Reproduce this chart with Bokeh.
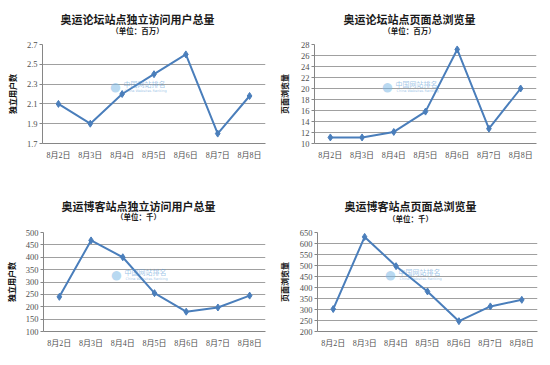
from bokeh.plotting import figure
from bokeh.models import FactorRange, Range1d, FixedTicker, Label
from bokeh.layouts import column, row
from bokeh.embed import file_html
from bokeh.resources import INLINE

dates = ["8月2日", "8月3日", "8月4日", "8月5日", "8月6日", "8月7日", "8月8日"]

forum_uv = [2.1, 1.9, 2.2, 2.4, 2.6, 1.8, 2.18]
forum_pv = [11.1, 11.1, 12.1, 15.8, 27.1, 12.7, 20.0]
blog_uv = [240, 468, 400, 255, 180, 197, 245]
blog_pv = [302, 630, 497, 382, 247, 314, 344]

ticks_forum_uv = [1.7, 1.9, 2.1, 2.3, 2.5, 2.7]
ticks_forum_pv = [10, 12, 14, 16, 18, 20, 22, 24, 26, 28]
ticks_blog_uv = [100, 150, 200, 250, 300, 350, 400, 450, 500]
ticks_blog_pv = [200, 250, 300, 350, 400, 450, 500, 550, 600, 650]

titles = ["奥运论坛站点独立访问用户总量", "奥运论坛站点页面总浏览量",
          "奥运博客站点独立访问用户总量", "奥运博客站点页面总浏览量"]
subtitles = ["（单位：百万）", "（单位：百万）", "（单位：千）", "（单位：千）"]
ylabels = ["独立用户数", "页面浏览量", "独立用户数", "页面浏览量"]

FONT = "Noto Sans CJK SC"
TICKFONT = "'Liberation Serif', 'Noto Sans CJK SC'"
LINE = "#4A7EBB"
GRID = "#a0a0a0"
AXIS = "#868686"
TXT = "#505050"


def make_header(width, height, title, subtitle, cx, ty, sy):
    h = figure(width=width, height=height, x_range=Range1d(0, 1), y_range=Range1d(0, 1),
               min_border=0, x_axis_location=None, y_axis_location=None,
               output_backend="svg", toolbar_location=None)
    h.title.text = ""
    h.outline_line_color = None
    h.grid.visible = False
    h.add_layout(Label(x=cx, y=ty, x_units="screen", y_units="screen", text=title,
                       text_font=FONT, text_font_size="11px", text_font_style="bold",
                       text_color="#1a1a1a", text_align="center", text_baseline="middle"))
    h.add_layout(Label(x=cx, y=sy, x_units="screen", y_units="screen", text=subtitle,
                       text_font=FONT, text_font_size="7.5px", text_font_style="bold",
                       text_color="#1a1a1a", text_align="center", text_baseline="middle"))
    return h


def make_chart(values, ticks, ylabel, fw, fh, bl, br, bt, bb, ystand):
    p = figure(x_range=FactorRange(*dates),
               y_range=Range1d(ticks[0], ticks[-1]),
               frame_width=fw, frame_height=fh,
               min_border_left=bl, min_border_right=br,
               min_border_top=bt, min_border_bottom=bb,
               output_backend="svg", toolbar_location=None,
               background_fill_color="white", border_fill_color="white")
    p.title.text = ""
    p.outline_line_color = None
    p.x_range.range_padding = 0
    p.yaxis.ticker = FixedTicker(ticks=ticks)
    p.ygrid.grid_line_color = GRID
    p.ygrid.grid_line_width = 1
    p.xgrid.grid_line_color = None

    p.yaxis.axis_line_color = AXIS
    p.yaxis.major_tick_line_color = AXIS
    p.yaxis.major_tick_out = 3
    p.yaxis.major_tick_in = 0
    p.yaxis.minor_tick_line_color = None
    p.yaxis.major_label_standoff = 2
    p.yaxis.major_label_text_font = TICKFONT
    p.yaxis.major_label_text_font_size = "8.5px"
    p.yaxis.major_label_text_color = TXT
    p.yaxis.axis_label = ylabel
    p.yaxis.axis_label_text_font = FONT
    p.yaxis.axis_label_text_font_size = "8px"
    p.yaxis.axis_label_text_font_style = "bold"
    p.yaxis.axis_label_text_color = "#111111"
    p.yaxis.axis_label_standoff = ystand

    p.xaxis.axis_line_color = AXIS
    p.xaxis.major_tick_out = 0
    p.xaxis.major_tick_in = 0
    p.xaxis.major_label_standoff = 7
    p.xaxis.major_label_text_font = TICKFONT
    p.xaxis.major_label_text_font_size = "8px"
    p.xaxis.major_label_text_color = TXT

    # watermark
    p.add_layout(Label(x=73, y=57, x_units="screen", y_units="screen", text="●",
                       text_font_size="22px", text_color="#7cb8e6", text_alpha=0.55,
                       text_align="center", text_baseline="middle"))
    p.add_layout(Label(x=81, y=60, x_units="screen", y_units="screen", text="中国网站排名",
                       text_font=FONT, text_font_size="7px", text_color="#5b9bd5",
                       text_alpha=0.6, text_baseline="middle"))
    p.add_layout(Label(x=82, y=53, x_units="screen", y_units="screen",
                       text="China Websites Ranking",
                       text_font="DejaVu Sans", text_font_size="3.5px", text_color="#5b9bd5",
                       text_alpha=0.6, text_baseline="middle"))

    p.line(dates, values, line_color=LINE, line_width=2)
    p.scatter(dates, values, marker="diamond", size=7, fill_color=LINE, line_color=LINE)
    return p


# header label x positions are relative to the aligned frame's left edge
h1 = make_header(275, 36, titles[0], subtitles[0], 95, 18, 6)
p1 = make_chart(forum_uv, ticks_forum_uv, ylabels[0], 223, 99, 42, 10, 8, 37, 6)
h2 = make_header(267, 36, titles[1], subtitles[1], 95, 18, 6)
p2 = make_chart(forum_pv, ticks_forum_pv, ylabels[1], 222, 99, 37, 8, 8, 37, 8)
h3 = make_header(275, 44, titles[2], subtitles[2], 95, 19, 8)
p3 = make_chart(blog_uv, ticks_blog_uv, ylabels[2], 222, 99, 43, 10, 8, 26, 6)
h4 = make_header(267, 44, titles[3], subtitles[3], 93, 19, 6)
p4 = make_chart(blog_pv, ticks_blog_pv, ylabels[3], 220, 99, 39, 8, 8, 26, 7)

layout = column(row(column(h1, p1), column(h2, p2)),
                row(column(h3, p3), column(h4, p4)))

open("out.html", "w").write(file_html(layout, INLINE))
